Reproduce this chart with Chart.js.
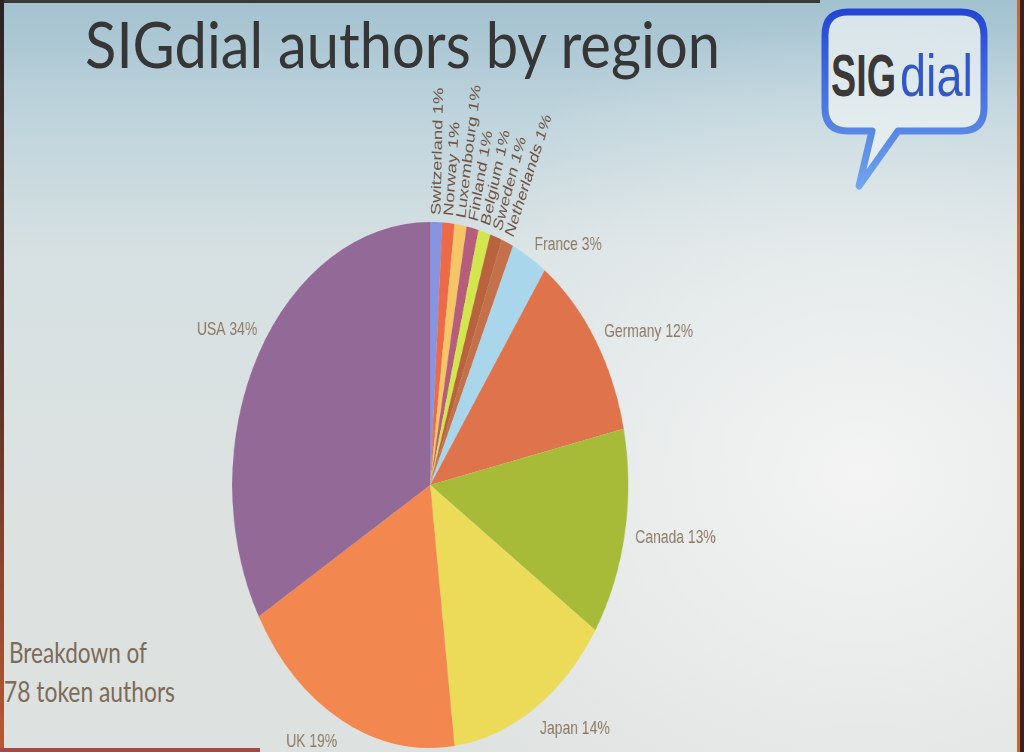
<!DOCTYPE html>
<html><head><meta charset="utf-8">
<script src="https://cdn.jsdelivr.net/npm/chart.js@4.4.1/dist/chart.umd.min.js"></script>
<style>
html,body{margin:0;padding:0;width:1024px;height:752px;overflow:hidden;}
body{position:relative;background:
  radial-gradient(ellipse 520px 460px at 860px 470px, rgba(244,245,244,0.95) 0%, rgba(244,245,244,0) 100%),
  linear-gradient(180deg,#a2c1cf 0px,#bdd3dc 110px,#d6e0e2 250px,#dde2e1 500px,#dde1e0 752px);}
#deco{position:absolute;left:0;top:0;}
#wrap{position:absolute;left:129px;top:80px;width:800px;height:672px;transform:scaleX(0.753);transform-origin:0 0;}
</style></head>
<body>
<svg id="deco" width="1024" height="752">
  <defs>
    <linearGradient id="lg" x1="0" y1="0" x2="0" y2="1">
      <stop offset="0" stop-color="#2546d4"/>
      <stop offset="1" stop-color="#70a4ec"/>
    </linearGradient>
    <linearGradient id="le" x1="0" y1="0" x2="0" y2="1">
      <stop offset="0" stop-color="#2a2424"/>
      <stop offset="0.5" stop-color="#5a3028"/>
      <stop offset="1" stop-color="#b85a34"/>
    </linearGradient>
  </defs>
  <rect x="0" y="0" width="820" height="3" fill="#3a3a3a"/>
  <rect x="0" y="0" width="4" height="752" fill="url(#le)"/>
  <rect x="1017" y="0" width="3" height="752" fill="#c06a3c"/>
  <rect x="1020" y="0" width="4" height="752" fill="#3a2220"/>
  <rect x="0" y="748" width="260" height="4" fill="#a24a44"/>
  <text x="85" y="68" font-family="Lato, 'Open Sans', sans-serif" font-size="63" fill="#363636" textLength="635" lengthAdjust="spacingAndGlyphs">SIGdial authors by region</text>
  <text x="9" y="663" font-family="Lato, 'Open Sans', sans-serif" font-size="29" fill="#7b6b58" textLength="138" lengthAdjust="spacingAndGlyphs">Breakdown of</text>
  <text x="4" y="702" font-family="Lato, 'Open Sans', sans-serif" font-size="29" fill="#7b6b58" textLength="171" lengthAdjust="spacingAndGlyphs">78 token authors</text>
  <path d="M848,12 H961 Q984,12 984,35 V108 Q984,131 961,131 H898 L859,186 L872,131 H848 Q825,131 825,108 V35 Q825,12 848,12 Z" fill="rgba(236,242,244,0.7)" stroke="url(#lg)" stroke-width="7" stroke-linejoin="round"/>
  <text x="831" y="96" font-family="'Liberation Sans Narrow','Liberation Sans',sans-serif" font-weight="bold" font-size="60" fill="#3b3838" textLength="65" lengthAdjust="spacingAndGlyphs">SIG</text>
  <text x="900" y="96" font-family="'Liberation Sans Narrow','Liberation Sans',sans-serif" font-size="60" fill="#3157c8" textLength="73" lengthAdjust="spacingAndGlyphs">dial</text>
</svg>
<div id="wrap"><canvas id="c" width="800" height="672"></canvas></div>
<script>
const regions = ['Switzerland','Norway','Luxembourg','Finland','Belgium','Sweden','Netherlands','France','Germany','Canada','Japan','UK','USA'];
const shares = [1,1,1,1,1,1,1,3,12,13,14,19,34];
const sliceColors = ['#8894e0','#ec6a45','#f5c566','#b55d7a','#d2e64e','#b8623e','#c4704a','#aad6ec','#df734c','#a8bb38','#ecdb58','#f2884f','#936a97'];

const sliceLabels = {
  id: 'sliceLabels',
  afterDatasetsDraw(chart, args, opts) {
    const ctx = chart.ctx;
    const meta = chart.getDatasetMeta(0);
    ctx.save();
    ctx.font = opts.font;
    meta.data.forEach((arc, i) => {
      const p = arc.getProps(['x','y','startAngle','endAngle','outerRadius'], true);
      const label = regions[i] + ' ' + shares[i] + '%';
      let mid = (p.startAngle + p.endAngle) / 2;
      const ov = opts.angleOverride[regions[i]];
      if (ov !== undefined) mid = ov * Math.PI / 180 - Math.PI / 2;
      const small = shares[i] <= opts.smallMax;
      const r = p.outerRadius + (small ? opts.smallGap : opts.gap);
      const x = p.x + Math.cos(mid) * r;
      const y = p.y + Math.sin(mid) * r + (small ? 0 : opts.dropY * Math.max(0, Math.sin(mid)));
      ctx.save();
      ctx.translate(x, y);
      ctx.textBaseline = 'middle';
      if (small) {
        ctx.rotate(mid);
        ctx.textAlign = 'left';
        ctx.fillStyle = opts.smallColor;
      } else {
        ctx.textAlign = Math.cos(mid) >= 0 ? 'left' : 'right';
        ctx.fillStyle = opts.color;
      }
      ctx.fillText(label, 0, 0);
      ctx.restore();
    });
    ctx.restore();
  }
};

new Chart(document.getElementById('c'), {
  type: 'pie',
  data: {
    labels: regions,
    datasets: [{ data: shares, backgroundColor: sliceColors, borderWidth: 0 }]
  },
  options: {
    responsive: false,
    animation: false,
    events: [],
    layout: { padding: { top: 142, bottom: 4, left: 137, right: 137 } },
    plugins: {
      legend: { display: false },
      tooltip: { enabled: false },
      sliceLabels: {
        font: '18.5px "Liberation Sans", Arial, sans-serif',
        color: '#8c7a66',
        smallColor: '#6e5444',
        smallMax: 1,
        gap: 14,
        smallGap: 7,
        dropY: 10,
        angleOverride: { USA: 304 }
      }
    }
  },
  plugins: [sliceLabels]
});
</script>
</body></html>
